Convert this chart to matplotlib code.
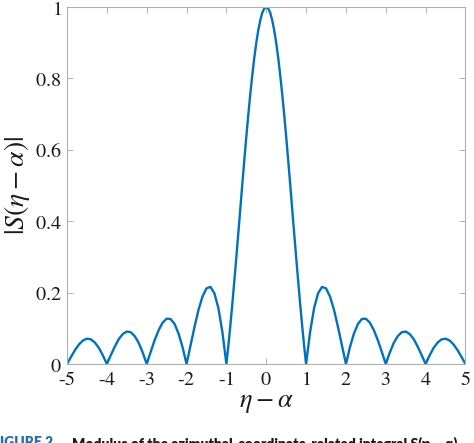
import matplotlib
matplotlib.use("Agg")
import matplotlib.pyplot as plt

# values (finer steps across the main lobe)
eta_minus_alpha = [
    -5.0, -4.9, -4.8, -4.7, -4.6, -4.5, -4.4, -4.3, -4.2, -4.1,
    -4.0, -3.9, -3.8, -3.7, -3.6, -3.5, -3.4, -3.3, -3.2, -3.1,
    -3.0, -2.9, -2.8, -2.7, -2.6, -2.5, -2.4, -2.3, -2.2, -2.1,
    -2.0, -1.9, -1.8, -1.7, -1.6, -1.5, -1.4, -1.3, -1.2, -1.1,
    -1.0, -0.95, -0.9, -0.85, -0.8, -0.75, -0.7, -0.65, -0.6, -0.55,
    -0.5, -0.45, -0.4, -0.35, -0.3, -0.25, -0.2, -0.15, -0.1, -0.05,
    0.0,
    0.05, 0.1, 0.15, 0.2, 0.25, 0.3, 0.35, 0.4, 0.45, 0.5,
    0.55, 0.6, 0.65, 0.7, 0.75, 0.8, 0.85, 0.9, 0.95, 1.0,
    1.1, 1.2, 1.3, 1.4, 1.5, 1.6, 1.7, 1.8, 1.9, 2.0,
    2.1, 2.2, 2.3, 2.4, 2.5, 2.6, 2.7, 2.8, 2.9, 3.0,
    3.1, 3.2, 3.3, 3.4, 3.5, 3.6, 3.7, 3.8, 3.9, 4.0,
    4.1, 4.2, 4.3, 4.4, 4.5, 4.6, 4.7, 4.8, 4.9, 5.0,
]
modulus = [
    0.000, 0.020, 0.039, 0.055, 0.066, 0.071, 0.069, 0.060, 0.045, 0.024,
    0.000, 0.025, 0.049, 0.070, 0.084, 0.091, 0.089, 0.078, 0.059, 0.032,
    0.000, 0.034, 0.067, 0.095, 0.116, 0.127, 0.126, 0.112, 0.085, 0.047,
    0.000, 0.052, 0.104, 0.152, 0.189, 0.212, 0.216, 0.198, 0.156, 0.089,
    0.000, 0.052, 0.109, 0.170, 0.234, 0.300, 0.368, 0.436, 0.505, 0.572,
    0.637, 0.699, 0.757, 0.810, 0.858, 0.900, 0.935, 0.963, 0.984, 0.996,
    1.000,
    0.996, 0.984, 0.963, 0.935, 0.900, 0.858, 0.810, 0.757, 0.699, 0.637,
    0.572, 0.505, 0.436, 0.368, 0.300, 0.234, 0.170, 0.109, 0.052, 0.000,
    0.089, 0.156, 0.198, 0.216, 0.212, 0.189, 0.152, 0.104, 0.052, 0.000,
    0.047, 0.085, 0.112, 0.126, 0.127, 0.116, 0.095, 0.067, 0.034, 0.000,
    0.032, 0.059, 0.078, 0.089, 0.091, 0.084, 0.070, 0.049, 0.025, 0.000,
    0.024, 0.045, 0.060, 0.069, 0.071, 0.066, 0.055, 0.039, 0.020, 0.000,
]
x_ticks = [-5, -4, -3, -2, -1, 0, 1, 2, 3, 4, 5]
y_ticks = [0, 0.2, 0.4, 0.6, 0.8, 1]
y_tick_labels = ["0", "0.2", "0.4", "0.6", "0.8", "1"]

plt.rcParams["mathtext.fontset"] = "stix"

fig = plt.figure(figsize=(4.74, 4.43), dpi=100)
ax = fig.add_axes([0.1414, 0.1783, 0.8406, 0.8057])

ax.plot(eta_minus_alpha, modulus, color="#0072BD", linewidth=1.7)

ax.set_xlim(-5, 5)
ax.set_ylim(0, 1)
ax.set_xticks(x_ticks)
# Times-like digits via stix mathtext; plain hyphen for the minus sign
ax.set_xticklabels([r"$\mathrm{%s}$" % str(t).replace("-", "\\text{-}") for t in x_ticks])
ax.set_yticks(y_ticks)
ax.set_yticklabels([r"$\mathrm{%s}$" % t for t in y_tick_labels])

for s in ax.spines.values():
    s.set_color("#b0b0b0")
    s.set_linewidth(0.8)
ax.tick_params(direction="in", length=4, width=0.7, color="#b0b0b0",
               top=True, right=True, labelsize=14.5, labelcolor="#1a1a1a", pad=4)

ax.set_xlabel(r"$\eta-\alpha$", fontsize=19, color="#1a1a1a", labelpad=0)
ax.set_ylabel(r"$|S(\eta-\alpha)|$", fontsize=20, color="#1a1a1a", labelpad=2)

# caption partly cut off at the bottom, as in the source
cap_y = 1 - 436 / 443
fig.text(57 / 474, cap_y, "FIGURE 2.", color="#1f6db5", fontsize=10,
         fontweight="heavy", family=["Lato", "DejaVu Sans"], ha="right", va="top")
fig.text(72 / 474, cap_y,
         "Modulus of the azimuthal-coordinate-related integral S(\u03b7 \u2212 \u03b1)",
         color="#1a1a1a", fontsize=10, fontweight="heavy",
         family=["Lato", "DejaVu Sans"], ha="left", va="top")

fig.savefig("out.png", dpi=100)
